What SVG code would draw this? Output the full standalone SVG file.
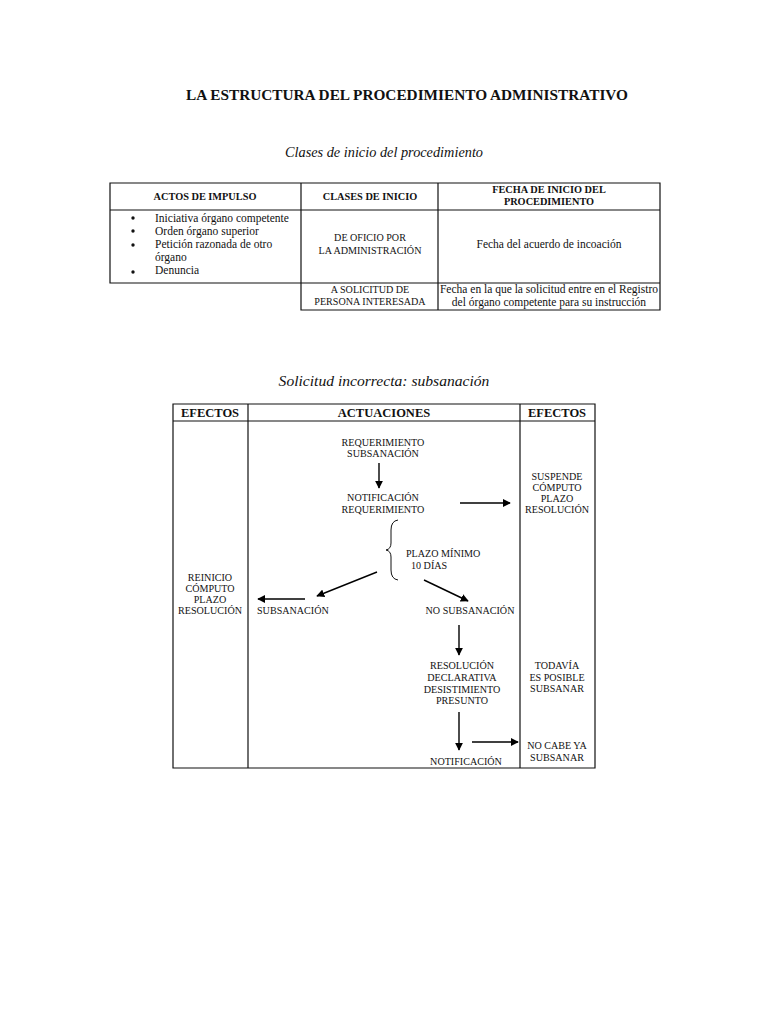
<svg xmlns="http://www.w3.org/2000/svg" width="768" height="1024" viewBox="0 0 768 1024">
<defs>
<marker id="ah" viewBox="0 0 10 10" refX="9" refY="5" markerWidth="8" markerHeight="8" markerUnits="userSpaceOnUse" orient="auto">
<path d="M0,0 L10,5 L0,10 z" fill="#000"/>
</marker>
<style>
text{font-family:"Liberation Serif","Times New Roman",serif;fill:#111;}
.title{font-size:15.3px;font-weight:bold;}
.it{font-style:italic;}
.hd{font-size:10.3px;font-weight:bold;text-anchor:middle;}
.hd2{font-size:12.5px;font-weight:bold;text-anchor:middle;}
.t11{font-size:11.5px;}
.c{text-anchor:middle;}
.s{font-size:10.1px;}
.grid{fill:none;stroke:#111;stroke-width:1.2;}
.arr{fill:none;stroke:#000;stroke-width:1.4;marker-end:url(#ah);}
</style>
</defs>
<rect width="768" height="1024" fill="#fff"/>
<text class="title" x="407" y="100" text-anchor="middle">LA ESTRUCTURA DEL PROCEDIMIENTO ADMINISTRATIVO</text>
<text class="it" x="384" y="157" text-anchor="middle" font-size="14.3">Clases de inicio del procedimiento</text>

<g id="table1">
<path class="grid" d="M110,183 H660 V310 H301 V283 H110 Z M110,210 H660 M110,283 H660 M301,183 V310 M438,183 V310"/>
<text class="hd" x="205" y="200">ACTOS DE IMPULSO</text>
<text class="hd" x="370" y="200">CLASES DE INICIO</text>
<text class="hd" x="549" y="193">FECHA DE INICIO DEL</text>
<text class="hd" x="549" y="205">PROCEDIMIENTO</text>
<g id="bullets">
<circle cx="133" cy="218" r="1.7" fill="#111"/>
<circle cx="133" cy="231" r="1.7" fill="#111"/>
<circle cx="133" cy="245" r="1.7" fill="#111"/>
<circle cx="133" cy="272" r="1.7" fill="#111"/>
<text class="t11" x="155" y="222">Iniciativa órgano competente</text>
<text class="t11" x="155" y="235">Orden órgano superior</text>
<text class="t11" x="155" y="248">Petición razonada de otro</text>
<text class="t11" x="155" y="261">órgano</text>
<text class="t11" x="155" y="274">Denuncia</text>
</g>
<text class="s c" x="370" y="241">DE OFICIO POR</text>
<text class="s c" x="370" y="254">LA ADMINISTRACIÓN</text>
<text class="t11 c" x="549" y="248">Fecha del acuerdo de incoación</text>
<text class="s c" x="370" y="293">A SOLICITUD DE</text>
<text class="s c" x="370" y="305">PERSONA INTERESADA</text>
<text class="t11 c" x="549" y="293">Fecha en la que la solicitud entre en el Registro</text>
<text class="t11 c" x="549" y="306">del órgano competente para su instrucción</text>
</g>

<text class="it" x="384" y="386" text-anchor="middle" font-size="15.6">Solicitud incorrecta: subsanación</text>

<g id="table2">
<path class="grid" d="M173,404 H595 V768 H173 Z M173,421 H595 M248,404 V768 M520,404 V768"/>
<text class="hd2" x="210" y="417">EFECTOS</text>
<text class="hd2" x="384" y="417">ACTUACIONES</text>
<text class="hd2" x="557" y="417">EFECTOS</text>
</g>

<g id="n-requerimiento"><text class="s c" x="383" y="446">REQUERIMIENTO</text><text class="s c" x="383" y="457">SUBSANACIÓN</text></g>
<g id="n-notificacion-req"><text class="s c" x="383" y="501">NOTIFICACIÓN</text><text class="s c" x="383" y="513">REQUERIMIENTO</text></g>
<g id="n-suspende"><text class="s c" x="557" y="480">SUSPENDE</text><text class="s c" x="557" y="491">CÓMPUTO</text><text class="s c" x="557" y="502">PLAZO</text><text class="s c" x="557" y="513">RESOLUCIÓN</text></g>
<g id="n-plazo"><path d="M398,520 Q391,521 391,530 L391,543 Q391,549 386,550 Q391,551 391,557 L391,570 Q391,579 398,580" fill="none" stroke="#111" stroke-width="1"/>
<text class="s" x="406" y="557">PLAZO MÍNIMO</text><text class="s" x="411" y="569">10 DÍAS</text></g>
<g id="n-reinicio"><text class="s c" x="210" y="581">REINICIO</text><text class="s c" x="210" y="592">CÓMPUTO</text><text class="s c" x="210" y="603">PLAZO</text><text class="s c" x="210" y="614">RESOLUCIÓN</text></g>
<g id="n-subsanacion"><text class="s" x="257" y="614">SUBSANACIÓN</text></g>
<g id="n-nosubsanacion"><text class="s c" x="470" y="614">NO SUBSANACIÓN</text></g>
<g id="n-resolucion"><text class="s c" x="462" y="669">RESOLUCIÓN</text><text class="s c" x="462" y="681">DECLARATIVA</text><text class="s c" x="462" y="693">DESISTIMIENTO</text><text class="s c" x="462" y="704">PRESUNTO</text></g>
<g id="n-todavia"><text class="s c" x="557" y="669">TODAVÍA</text><text class="s c" x="557" y="681">ES POSIBLE</text><text class="s c" x="557" y="692">SUBSANAR</text></g>
<g id="n-notificacion"><text class="s c" x="466" y="765">NOTIFICACIÓN</text></g>
<g id="n-nocabe"><text class="s c" x="557" y="749">NO CABE YA</text><text class="s c" x="557" y="761">SUBSANAR</text></g>

<g id="connectors">
<path class="arr" d="M379,463 V488"/>
<path class="arr" d="M460,503 H510"/>
<path class="arr" d="M377,572 L317,596"/>
<path class="arr" d="M424,580 L468,601"/>
<path class="arr" d="M305,599 H258"/>
<path class="arr" d="M459,625 V655"/>
<path class="arr" d="M459,712 V750"/>
<path class="arr" d="M472,742 H518"/>
</g>
</svg>
